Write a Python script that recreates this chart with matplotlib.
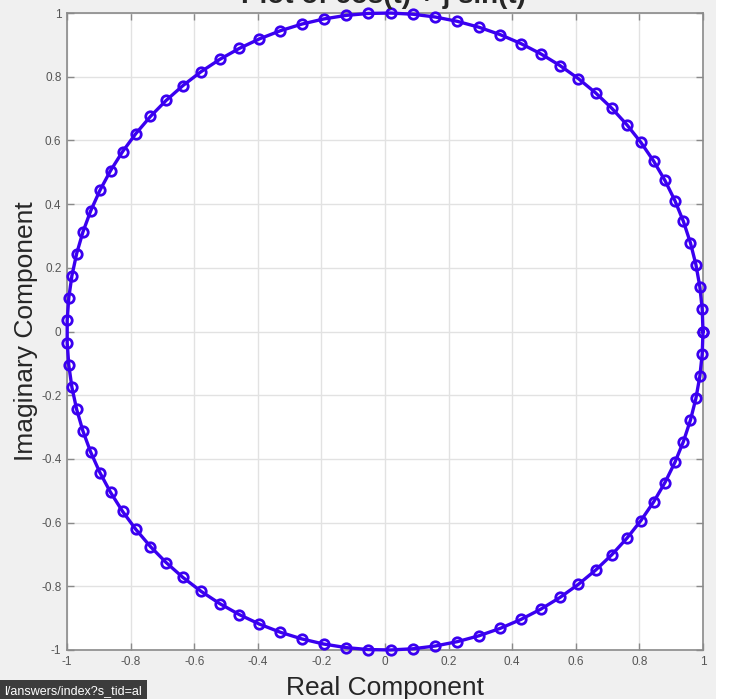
import numpy as np
import matplotlib
matplotlib.use("Agg")
import matplotlib.pyplot as plt
from matplotlib.patches import Rectangle

# Data: unit circle sampled at 90 points, t in [0, 2*pi]
n_points = 90
t = np.linspace(0, 2 * np.pi, n_points)
real_vals = np.cos(t)
imag_vals = np.sin(t)

tick_vals = [-1, -0.8, -0.6, -0.4, -0.2, 0, 0.2, 0.4, 0.6, 0.8, 1]
tick_labels = ["-1", "-0.8", "-0.6", "-0.4", "-0.2", "0", "0.2", "0.4", "0.6", "0.8", "1"]

plt.rcParams['font.family'] = ['Liberation Sans', 'DejaVu Sans']

W, H = 740, 699
fig = plt.figure(figsize=(W / 100, H / 100), dpi=100, facecolor='#f0f0f0')
# white strip at right edge (screenshot)
fig.patches.append(Rectangle((716 / W, 0), 1 - 716 / W, 1, transform=fig.transFigure,
                             facecolor='white', edgecolor='none', zorder=0))

ax = fig.add_axes([67 / W, 1 - 650 / H, (703 - 67) / W, (650 - 13) / H])
ax.set_facecolor('white')
ax.plot(real_vals, imag_vals, '-o', color='#3a00f0', lw=2.4, ms=6.8,
        mfc='none', mew=2.0, clip_on=False, zorder=3)

ax.set_xlim(-1, 1)
ax.set_ylim(-1, 1)
ax.set_xticks(tick_vals)
ax.set_xticklabels(tick_labels)
ax.set_yticks(tick_vals)
ax.set_yticklabels(tick_labels)
ax.grid(True, color='#e2e2e2', lw=1.0)
ax.set_axisbelow(True)
for s in ax.spines.values():
    s.set_color('#8a8a8a')
    s.set_linewidth(1.2)
ax.tick_params(direction='in', length=5, width=1, color='#8a8a8a',
               labelcolor='#555555', labelsize=8.5, top=True, right=True,
               pad=4)

ax.set_xlabel('Real Component', fontsize=19, color='#262626', labelpad=6)
ax.set_ylabel('Imaginary Component', fontsize=19, color='#262626', labelpad=2)
# title sits mostly above the visible frame, as in the screenshot
fig.text(383 / W, 1 - 3 / H, 'Plot of cos(t) + j sin(t)', fontsize=20, fontweight='bold',
         color='#262626', ha='center', va='baseline')

# screenshot tooltip at bottom-left
fig.text(4 / W, 1 - 691 / H, 'l/answers/index?s_tid=al', fontsize=9, color='white',
         ha='left', va='center',
         bbox=dict(boxstyle='square,pad=0.4', facecolor='#3c3c3c', edgecolor='none'))

fig.savefig('out.png', dpi=100, facecolor=fig.get_facecolor())
